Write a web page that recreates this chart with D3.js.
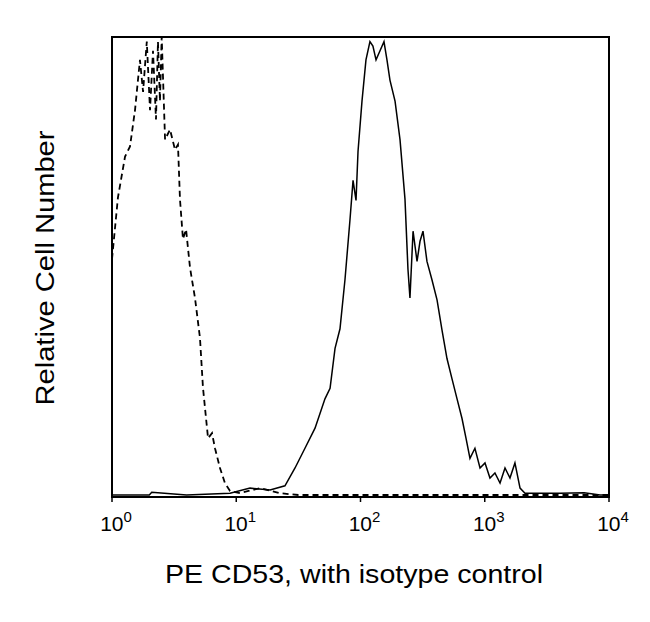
<!DOCTYPE html><html><head><script src="https://cdn.jsdelivr.net/npm/d3@7"></script>
<style>body{margin:0;background:#fff}</style></head><body><svg id="c" width="650" height="622"></svg>
<script>
const isoExp=[0.00,0.048,0.105,0.145,0.185,0.225,0.25,0.28,0.306,0.33,0.354,0.37,0.386,0.40,0.427,0.467,0.507,0.531,0.547,0.571,0.596,0.628,0.668,0.708,0.732,0.757,0.773,0.805,0.829,0.869,0.909,0.95,1.03,1.19,1.35,1.5,2.0,3.0,4.0];
const isoCnt=[51.5,65,73.9,76.1,84,95,88,99,84,97,82,99,86,100,77.6,79.8,75.4,76.5,64.6,55.9,58,49.6,43,34.3,23.5,16.7,12.4,13.5,10.2,5.9,2.6,0.9,0.4,1.5,0.4,0,0,0,0];
const cdExp=[0.0,0.3,0.32,0.6,0.95,1.111,1.272,1.392,1.473,1.553,1.634,1.714,1.755,1.795,1.835,1.875,1.915,1.94,1.964,1.98,2.012,2.044,2.076,2.10,2.125,2.157,2.189,2.213,2.237,2.278,2.318,2.358,2.382,2.398,2.423,2.455,2.479,2.503,2.535,2.575,2.616,2.656,2.696,2.736,2.777,2.817,2.849,2.881,2.921,2.962,3.002,3.042,3.082,3.123,3.163,3.203,3.243,3.284,3.324,3.606,3.8,3.928,4.0];
const cdCnt=[0,0,0.6,0,0.4,1.5,1.1,2,5.9,10.2,14.6,21,23.3,32,36.3,47,60,68.7,64.3,75,86,95,99,98,95,97,99,95,90.6,86,77.6,64.6,49.3,43,57.6,51,55.4,57.6,51,47,42.6,36,29.8,25.4,21,16.7,12.4,8,10.2,5.9,7,3.7,4.8,2.6,5.9,3.7,7,1.5,0.4,0.4,0.5,0,0];
const tickExp=[0,1,2,3,4];
const svg=d3.select("#c");
const L=112,R=609,T=37,B=497;
const x=d3.scaleLinear().domain([0,4]).range([L,R]);
const y=d3.scaleLinear().domain([0,100]).range([B-2,T]);
const line=d3.line().x(d=>x(d[0])).y(d=>y(d[1]));
const F="Liberation Sans, Arial";
svg.append("path").attr("d",line(d3.zip(cdExp,cdCnt))).attr("fill","none").attr("stroke","#000").attr("stroke-width",1.5);
svg.append("path").attr("d",line(d3.zip(isoExp,isoCnt))).attr("fill","none").attr("stroke","#000").attr("stroke-width",1.8).attr("stroke-dasharray","6,4");
svg.append("rect").attr("x",L).attr("y",T).attr("width",R-L).attr("height",B-T).attr("fill","none").attr("stroke","#000").attr("stroke-width",2);
const g=svg.append("g");
tickExp.forEach(e=>{
  g.append("line").attr("x1",x(e)).attr("x2",x(e)).attr("y1",B).attr("y2",B+5).attr("stroke","#000").attr("stroke-width",1.5);
  const t=g.append("text").attr("x",x(e)+4).attr("y",B+34).attr("text-anchor","middle").attr("font-family",F).attr("font-size",21);
  t.append("tspan").text("10");
  t.append("tspan").attr("dy",-9).attr("font-size",15).text(e);
});
svg.append("text").attr("x",354).attr("y",583).attr("text-anchor","middle").attr("font-family",F).attr("font-size",26).attr("textLength",378).attr("lengthAdjust","spacingAndGlyphs").text("PE CD53, with isotype control");
svg.append("text").attr("transform","translate(54,268) rotate(-90)").attr("text-anchor","middle").attr("font-family",F).attr("font-size",26).attr("textLength",275).attr("lengthAdjust","spacingAndGlyphs").text("Relative Cell Number");
</script></body></html>
